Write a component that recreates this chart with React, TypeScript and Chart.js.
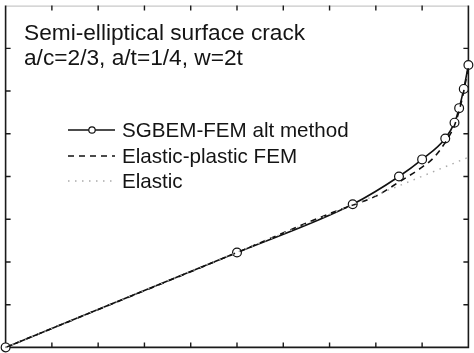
import React, { useEffect, useRef } from "react";
import { Chart, registerables } from "chart.js";

Chart.register(...registerables);

const titleLines = ["Semi-elliptical surface crack", "a/c=2/3, a/t=1/4, w=2t"];
const seriesNames = ["SGBEM-FEM alt method", "Elastic-plastic FEM", "Elastic"];

const sgbemX = [0, 5.0, 7.5, 8.5, 9.0, 9.5, 9.7, 9.8, 9.9, 10.0];
const sgbemY = [0, 2.22, 3.35, 4.0, 4.4, 4.89, 5.26, 5.6, 6.05, 6.61];

const femX = [0, 5.0, 7.0, 7.5, 8.0, 8.5, 9.0, 9.25, 9.5, 9.7, 9.85, 10.0];
const femY = [0, 2.22, 3.13, 3.33, 3.54, 3.87, 4.22, 4.44, 4.8, 5.2, 5.75, 6.55];

const elasticX = [0, 10.0];
const elasticY = [0, 4.45];

const xMin = 0, xMax = 10, yMin = 0, yMax = 8;
const xTicks = [1, 2, 3, 4, 5, 6, 7, 8, 9];
const yTicks = [1, 2, 3, 4, 5, 6, 7];

const FONT = '"Liberation Sans", Arial, sans-serif';

const zip = (xs: number[], ys: number[]) => xs.map((x, i) => ({ x, y: ys[i] }));

const framePlugin = {
  id: "frame",
  beforeDatasetsDraw(chart: any) {
    const { ctx, chartArea: a, scales } = chart;
    ctx.save();
    ctx.strokeStyle = "#bbb";
    ctx.lineWidth = 1;
    ctx.beginPath();
    ctx.moveTo(a.left, a.top + 0.5);
    ctx.lineTo(a.right, a.top + 0.5);
    ctx.stroke();
    ctx.strokeStyle = "#1a1a1a";
    ctx.lineWidth = 1.6;
    ctx.beginPath();
    ctx.moveTo(a.left, a.top);
    ctx.lineTo(a.left, a.bottom);
    ctx.lineTo(a.right, a.bottom);
    ctx.lineTo(a.right, a.top);
    ctx.stroke();
    const tl = 5;
    ctx.lineWidth = 1.4;
    ctx.beginPath();
    for (const v of xTicks) {
      const px = scales.x.getPixelForValue(v);
      ctx.moveTo(px, a.bottom);
      ctx.lineTo(px, a.bottom - tl);
      ctx.moveTo(px, a.top);
      ctx.lineTo(px, a.top + tl);
    }
    for (const v of yTicks) {
      const py = scales.y.getPixelForValue(v);
      ctx.moveTo(a.left, py);
      ctx.lineTo(a.left + tl, py);
      ctx.moveTo(a.right, py);
      ctx.lineTo(a.right - tl, py);
    }
    ctx.stroke();
    ctx.restore();
  },
  afterDraw(chart: any) {
    const { ctx } = chart;
    ctx.save();
    ctx.fillStyle = "#141414";
    ctx.font = `22.7px ${FONT}`;
    ctx.textBaseline = "alphabetic";
    ctx.textAlign = "left";
    ctx.fillText(titleLines[0], 24, 40);
    ctx.fillText(titleLines[1], 24, 65);

    const rows = [130, 156, 181];
    const x0 = 68, x1 = 115, tx = 122;
    ctx.strokeStyle = "#111";
    ctx.lineWidth = 1.6;
    ctx.setLineDash([]);
    ctx.beginPath();
    ctx.moveTo(x0, rows[0]);
    ctx.lineTo(x1, rows[0]);
    ctx.stroke();
    ctx.beginPath();
    ctx.arc(92, rows[0], 3.2, 0, Math.PI * 2);
    ctx.fillStyle = "#fff";
    ctx.fill();
    ctx.lineWidth = 1.2;
    ctx.stroke();
    ctx.lineWidth = 1.6;
    ctx.setLineDash([6, 5]);
    ctx.beginPath();
    ctx.moveTo(x0, rows[1]);
    ctx.lineTo(x1, rows[1]);
    ctx.stroke();
    ctx.strokeStyle = "#aaa";
    ctx.lineWidth = 1.4;
    ctx.setLineDash([1.5, 5.5]);
    ctx.beginPath();
    ctx.moveTo(x0, rows[2]);
    ctx.lineTo(x1, rows[2]);
    ctx.stroke();
    ctx.setLineDash([]);

    ctx.fillStyle = "#141414";
    ctx.font = `20.6px ${FONT}`;
    ctx.textBaseline = "middle";
    seriesNames.forEach((n, i) => ctx.fillText(n, tx, rows[i] + 1));
    ctx.restore();
  },
};

export default function App() {
  const ref = useRef<HTMLCanvasElement>(null);
  useEffect(() => {
    if (!ref.current) return;
    const chart = new Chart(ref.current, {
      type: "scatter",
      data: {
        datasets: [
          {
            label: seriesNames[2],
            data: zip(elasticX, elasticY),
            showLine: true,
            borderColor: "#a8a8a8",
            borderWidth: 1.4,
            borderDash: [1.5, 5.5],
            pointRadius: 0,
            clip: false,
          } as any,
          {
            label: seriesNames[1],
            data: zip(femX, femY),
            showLine: true,
            borderColor: "#111",
            borderWidth: 1.6,
            borderDash: [6, 5],
            pointRadius: 0,
            cubicInterpolationMode: "monotone",
            clip: false,
          } as any,
          {
            label: seriesNames[0],
            data: zip(sgbemX, sgbemY),
            showLine: true,
            borderColor: "#111",
            borderWidth: 1.6,
            pointRadius: 4.4,
            pointBorderWidth: 1.2,
            pointBackgroundColor: "#fff",
            pointBorderColor: "#111",
            cubicInterpolationMode: "monotone",
            clip: false,
          } as any,
        ],
      },
      options: {
        animation: false,
        responsive: false,
        layout: { padding: { left: 3, right: 5, top: 0, bottom: 5 } },
        plugins: { legend: { display: false }, tooltip: { enabled: false } },
        scales: {
          x: { type: "linear", min: xMin, max: xMax, display: false },
          y: { type: "linear", min: yMin, max: yMax, display: false },
        },
      },
      plugins: [framePlugin],
    });
    return () => chart.destroy();
  }, []);
  return (
    <div style={{ position: "fixed", left: 0, top: 0, width: 474, height: 353, background: "#fff" }}>
      <canvas ref={ref} width={474} height={353} style={{ display: "block" }} />
    </div>
  );
}
